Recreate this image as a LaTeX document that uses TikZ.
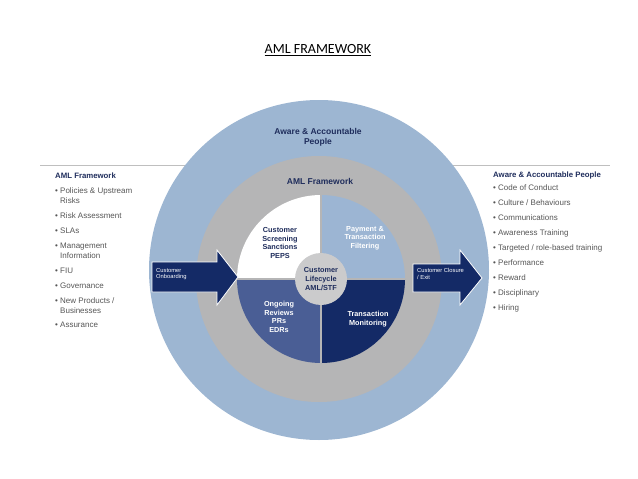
\documentclass[tikz,border=0pt]{standalone}
\usepackage{fontspec}
\setmainfont{Liberation Sans}
\newfontfamily\titlefont{Carlito}
\definecolor{outerblue}{HTML}{9DB6D2}
\definecolor{ringgray}{HTML}{B5B5B6}
\definecolor{lightq}{HTML}{9CB5D3}
\definecolor{midq}{HTML}{4A5E95}
\definecolor{darkq}{HTML}{142A66}
\definecolor{headc}{HTML}{1F2D5C}
\definecolor{itemc}{HTML}{555555}
\tikzset{
  head/.style={font=\bfseries\fontsize{7.8}{9}\selectfont, text=headc, anchor=west, inner sep=0},
  item/.style={font=\fontsize{8}{9.5}\selectfont, text=itemc, anchor=north west, inner sep=0, align=left},
  qtext/.style={font=\bfseries\fontsize{7.3}{8.7}\selectfont, align=center, inner sep=0},
  arr/.style={fill=darkq, draw=white, line width=0.8pt},
  atext/.style={font=\fontsize{5.8}{6.8}\selectfont, text=white, align=left, anchor=west, inner sep=0}
}
\begin{document}
\begin{tikzpicture}[x=1pt,y=-1pt]
\useasboundingbox (0,0) rectangle (638,479);
\node[font=\titlefont\fontsize{14}{16}\selectfont] (title) at (318,50) {\underline{AML FRAMEWORK}};
\draw[gray!50, line width=1pt] (40,165) -- (610,165);
\fill[outerblue] (319,270) circle (170);
\fill[ringgray] (319,279) circle (123);
\coordinate (c) at (321,279);
\fill[white] (c) -- (237,279) arc[start angle=180, end angle=270, radius=84] -- cycle;
\fill[lightq] (c) -- (321,195) arc[start angle=270, end angle=360, radius=84] -- cycle;
\fill[darkq] (c) -- (405,279) arc[start angle=0, end angle=90, radius=84] -- cycle;
\fill[midq] (c) -- (321,363) arc[start angle=90, end angle=180, radius=84] -- cycle;
\draw[ringgray, line width=1.2pt] (237,279) -- (405,279) (321,195) -- (321,363);
\fill[ringgray!70] (c) circle (26);
\node[qtext, text=headc] (lc) at (c) {Customer\\Lifecycle\\AML/STF};
\node[qtext, text=headc] (cs) at (280,243) {Customer\\Screening\\Sanctions\\PEPS};
\node[qtext, text=white] (pt) at (365,238) {Payment \&\\Transaction\\Filtering};
\node[qtext, text=white] (tm) at (368,319) {Transaction\\Monitoring};
\node[qtext, text=white] (or) at (279,317) {Ongoing\\Reviews\\PRs\\EDRs};
\node[font=\bfseries\fontsize{8.5}{10}\selectfont, text=headc] (amlf) at (320,181) {AML Framework};
\node[font=\bfseries\fontsize{8.5}{10}\selectfont, text=headc, align=center] (aap) at (318,137) {Aware \& Accountable\\People};
\draw[arr] (152,262) -- (217,262) -- (217,250) -- (238,277) -- (217,305) -- (217,292) -- (152,292) -- cycle;
\node[atext] (lat) at (156,274) {Customer\\Onboarding};
\draw[arr] (413,264) -- (460,264) -- (460,250) -- (482,278) -- (460,305) -- (460,292) -- (413,292) -- cycle;
\node[atext] (rat) at (417,274) {Customer Closure\\/ Exit};
% left list
\node[head] (lh) at (55,176) {AML Framework};
\foreach \t/\y [count=\i] in {{Policies \& Upstream\\\hphantom{\textbullet\ }Risks}/188,{Risk Assessment}/213,{SLAs}/228,{Management\\\hphantom{\textbullet\ }Information}/243,{FIU}/268,{Governance}/283,{New Products /\\\hphantom{\textbullet\ }Businesses}/298,{Assurance}/322}
  \node[item] (l\i) at (55,\y) {\textbullet\ \t};
% right list
\node[head] (rh) at (493,175) {Aware \& Accountable People};
\foreach \t/\y [count=\i] in {{Code of Conduct}/185,{Culture / Behaviours}/200,{Communications}/215,{Awareness Training}/230,{Targeted / role-based training}/245,{Performance}/260,{Reward}/275,{Disciplinary}/290,{Hiring}/305}
  \node[item] (r\i) at (493,\y) {\textbullet\ \t};
\end{tikzpicture}
\end{document}
